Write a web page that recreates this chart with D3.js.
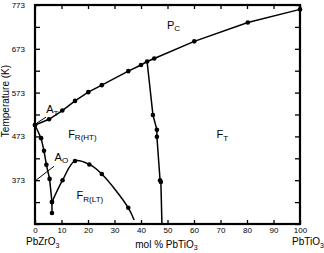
<!DOCTYPE html>
<html><head><meta charset="utf-8">
<script src="https://cdn.jsdelivr.net/npm/d3@7"></script>
<style>
html,body{margin:0;padding:0;background:#fff;}
svg{display:block;font-family:"Liberation Sans",Arial,Helvetica,sans-serif;}
</style></head>
<body>
<svg id="c" width="324" height="253"></svg>
<script>
// Paraelectric cubic boundary (Pc)
const pcX = [0, 5.3, 10.3, 15.1, 20.1, 25.2, 35.2, 40, 42.3, 45, 60.1, 80.3, 100];
const pcT = [499, 512, 532, 554, 574, 590, 622, 636, 644, 651, 690, 733, 763];
// Morphotropic phase boundary
const mpbX = [42.3, 44.5, 46, 46, 47.2, 47.5, 47.9];
const mpbT = [644, 522, 488, 472, 373, 369, 273];
const mpbDot = [false, true, true, true, true, true, false];
// Antiferroelectric orthorhombic / FR(HT) boundary
const aoX = [0, 2.3, 3.4, 4.3, 5.5, 6.4, 6.4];
const aoT = [499, 469, 440, 408, 376, 323, 298];
// FR(HT) / FR(LT) boundary
const ltX = [6.4, 10.4, 15.1, 20.5, 25.2, 35.2, 37.4];
const ltT = [323, 373, 417, 409, 387, 310, 282];
const ltDot = [true, true, true, true, true, true, false];

const xTicks = [0,10,20,30,40,50,60,70,80,90,100];
const yTicks = [273,323,373,423,473,523,573,623,673,723,773];
const yLabels = [373,473,573,673,773];

const svg = d3.select("#c");
const x = d3.scaleLinear().domain([0,100]).range([35,300]);
const y = d3.scaleLinear().domain([273,773]).range([224,5]);

// axes with inward ticks
const gB = svg.append("g").attr("transform","translate(0,224)")
  .call(d3.axisBottom(x).tickValues(xTicks).tickSize(-4).tickPadding(3).tickFormat(d3.format("d")));
const gT = svg.append("g").attr("transform","translate(0,5)")
  .call(d3.axisTop(x).tickValues(xTicks).tickSize(-4).tickFormat(""));
const gL = svg.append("g").attr("transform","translate(35,0)")
  .call(d3.axisLeft(y).tickValues(yTicks).tickSize(-5).tickPadding(10)
    .tickFormat(d => yLabels.includes(d) ? d : ""));
const gR = svg.append("g").attr("transform","translate(300,0)")
  .call(d3.axisRight(y).tickValues(yTicks).tickSize(-5).tickFormat(""));
[gB,gT,gL,gR].forEach(g => {
  g.select(".domain").remove();
  g.selectAll(".tick line").attr("stroke","#000").attr("stroke-width",1.3);
  g.selectAll("text").attr("font-size",8).attr("fill","#000");
});

svg.append("rect").attr("x",x(0)).attr("y",y(773)).attr("width",x(100)-x(0)).attr("height",y(273)-y(773))
  .attr("fill","none").attr("stroke","#000").attr("stroke-width",2.2);

function curve(xs, ts, dots, c) {
  const pts = xs.map((v,i)=>[v, ts[i]]);
  svg.append("path").datum(pts)
    .attr("d", d3.line().x(d=>x(d[0])).y(d=>y(d[1])).curve(c))
    .attr("fill","none").attr("stroke","#000").attr("stroke-width",1.5);
  svg.append("g").selectAll("circle").data(pts.filter((d,i)=>dots ? dots[i] : true)).join("circle")
    .attr("cx",d=>x(d[0])).attr("cy",d=>y(d[1])).attr("r",2.3).attr("fill","#000");
}
curve(pcX, pcT, null, d3.curveLinear);
curve(mpbX, mpbT, mpbDot, d3.curveLinear);
curve(aoX, aoT, null, d3.curveLinear);
curve(ltX, ltT, ltDot, d3.curveCatmullRom.alpha(0.5));

// pointer lines
const pointers = [[[4.15,517],[0.8,504]], [[7.2,405],[0.4,373]]];
pointers.forEach(p => svg.append("line")
  .attr("x1",x(p[0][0])).attr("y1",y(p[0][1])).attr("x2",x(p[1][0])).attr("y2",y(p[1][1]))
  .attr("stroke","#000").attr("stroke-width",1));

// region labels: [main, sub, xval]
const regions = [["P","C",49.8],["F","T",68.5],["F","R(HT)",12.5],["F","R(LT)",15.7],["A","O",7.4],["A","T",4.2]];
const regionT = [719, 469, 470, 330, 417, 526];
regions.forEach((r,i) => {
  const t = svg.append("text").attr("x",x(r[2])).attr("y",y(regionT[i])).attr("font-size",11).attr("fill","#000");
  t.append("tspan").text(r[0]);
  t.append("tspan").attr("font-size",8).attr("dy",2.5).text(r[1]);
});

// axis titles
function chem(txt, sub, px, py, anchor) {
  const t = svg.append("text").attr("x",px).attr("y",py).attr("font-size",10).attr("fill","#000").attr("text-anchor",anchor);
  t.append("tspan").text(txt);
  t.append("tspan").attr("font-size",7).attr("dy",2.5).text(sub);
}
chem("PbZrO","3",26,245,"start");
chem("mol % PbTiO","3",x(50)-1,247.5,"middle");
chem("PbTiO","3",292,245,"start");

svg.append("text").attr("transform","translate(9,101) rotate(-90)").attr("text-anchor","middle")
  .attr("font-size",10).attr("fill","#000").text("Temperature (K)");
</script>
</body></html>
